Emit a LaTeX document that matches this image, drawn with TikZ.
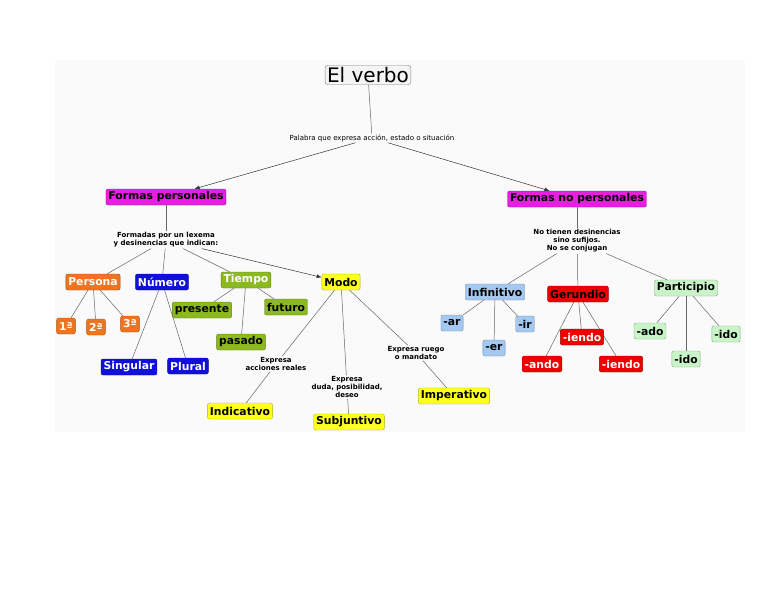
\documentclass[tikz,border=0pt]{standalone}
\usepackage{fontspec}
\setmainfont{DejaVu Sans}
\usetikzlibrary{arrows.meta,backgrounds}
\definecolor{mag}{HTML}{E81EE0}
\definecolor{org}{HTML}{EE7420}
\definecolor{blu}{HTML}{1010D8}
\definecolor{grn}{HTML}{8CB820}
\definecolor{yel}{HTML}{FFFF20}
\definecolor{lblu}{HTML}{A4C8F0}
\definecolor{rd}{HTML}{EE0000}
\definecolor{lgrn}{HTML}{C8F4C8}
\tikzset{
 box/.style={rounded corners=2pt,draw=#1!70!black,fill=#1,font=\bfseries\fontsize{10.8}{12}\selectfont,inner sep=2.5pt,minimum height=16pt},
 wbox/.style={box=#1,text=white},
 lab/.style={font=\bfseries\fontsize{7}{8}\selectfont,align=center,fill=black!2,inner sep=1pt},
 ln/.style={draw=gray!80!black,line width=0.5pt},
 ar/.style={ln,-{Latex[length=5pt,width=4pt]},draw=black!80}
}
\begin{document}
\begin{tikzpicture}[x=1pt,y=-1pt]
\useasboundingbox (0,0) rectangle (768,594);
\node[draw=gray,fill=gray!8,rounded corners=3pt,font=\fontsize{20}{22}\selectfont,inner sep=2pt] (ev) at (368,75) {El verbo};
\node[font=\fontsize{7}{8}\selectfont,fill=black!2,inner sep=1pt] (l1) at (372,138) {Palabra que expresa acción, estado o situación};
\node[box=mag] (fp) at (166,197) {Formas personales};
\node[box=mag] (fnp) at (577,199) {Formas no personales};
\node[lab] (lfp) at (166,240) {Formadas por un lexema\\y desinencias que indican:};
\node[wbox=org] (per) at (93,282) {Persona};
\node[wbox=blu] (num) at (162,282) {Número};
\node[wbox=grn] (tie) at (246,280) {Tiempo};
\node[box=yel] (mod) at (341,282) {Modo};
\node[wbox=org] (p1) at (66,326) {1ª};
\node[wbox=org] (p2) at (96,327) {2ª};
\node[wbox=org] (p3) at (130,324) {3ª};
\node[wbox=blu] (sg) at (129,367) {Singular};
\node[wbox=blu] (pl) at (188,366) {Plural};
\node[box=grn] (pre) at (202,310) {presente};
\node[box=grn] (fut) at (286,307) {futuro};
\node[box=grn] (pas) at (241,342) {pasado};
\node[lab] (lind) at (276,364) {Expresa\\acciones reales};
\node[box=yel] (ind) at (240,411) {Indicativo};
\node[lab] (lsub) at (347,387) {Expresa\\duda, posibilidad,\\deseo};
\node[box=yel] (sub) at (349,422) {Subjuntivo};
\node[lab] (limp) at (416,353) {Expresa ruego\\o mandato};
\node[box=yel] (imp) at (454,396) {Imperativo};
\node[lab] (lnp) at (577,241) {No tienen desinencias\\sino sufijos.\\No se conjugan};
\node[box=lblu] (inf) at (495,292) {Infinitivo};
\node[box=rd] (ger) at (578,294) {Gerundio};
\node[box=lgrn] (par) at (686,288) {Participio};
\node[box=lblu] (ar) at (452,323) {-ar};
\node[box=lblu] (er) at (494,348) {-er};
\node[box=lblu] (ir) at (525,324) {-ir};
\node[wbox=rd] (ie1) at (582,337) {-iendo};
\node[wbox=rd] (an) at (542,364) {-ando};
\node[wbox=rd] (ie2) at (621,364) {-iendo};
\node[box=lgrn] (ado) at (650,331) {-ado};
\node[box=lgrn] (id1) at (686,359) {-ido};
\node[box=lgrn] (id2) at (726,334) {-ido};
\draw[ln] (ev) -- (l1);
\draw[ar] (l1) -- (fp);
\draw[ar] (l1) -- (fnp);
\draw[ln] (fp) -- (lfp);
\draw[ln] (lfp) -- (per);
\draw[ln] (lfp) -- (num);
\draw[ln] (lfp) -- (tie);
\draw[ar] (lfp) -- (mod);
\foreach \t in {p1,p2,p3} \draw[ln] (per) -- (\t);
\foreach \t in {sg,pl} \draw[ln] (num) -- (\t);
\foreach \t in {pre,fut,pas} \draw[ln] (tie) -- (\t);
\draw[ln] (mod) -- (lind); \draw[ln] (lind) -- (ind);
\draw[ln] (mod) -- (lsub); \draw[ln] (lsub) -- (sub);
\draw[ln] (mod) -- (limp); \draw[ln] (limp) -- (imp);
\draw[ln] (fnp) -- (lnp);
\foreach \t in {inf,ger,par} \draw[ln] (lnp) -- (\t);
\foreach \t in {ar,er,ir} \draw[ln] (inf) -- (\t);
\draw[ln] (ger) -- (ie1);
\foreach \t in {ado,id1,id2} \draw[ln] (par) -- (\t);
\begin{scope}[on background layer]
\fill[black!2] (55,60) rectangle (745,432);
\foreach \t in {an,ie2} \draw[ln] (ger) -- (\t);
\end{scope}
\end{tikzpicture}
\end{document}
